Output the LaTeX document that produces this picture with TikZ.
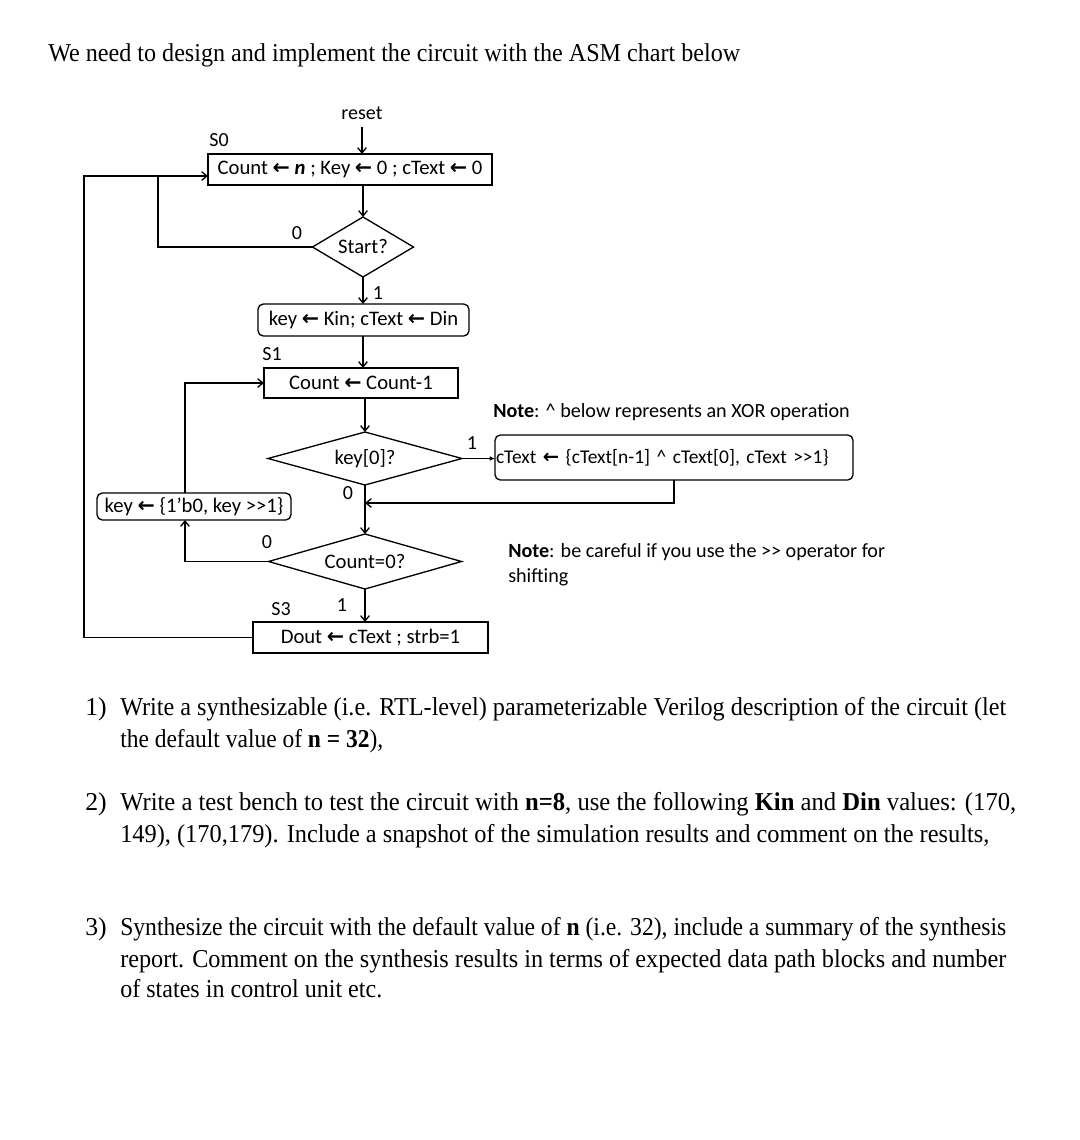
\documentclass[tikz,border=0pt]{standalone}
\usepackage{fontspec}
\usepackage{graphicx}
\setmainfont{Liberation Serif}
\newfontfamily\calfont{Carlito}
\newfontfamily\arrowfont{DejaVu Sans Bold}
\usetikzlibrary{shapes.geometric,arrows.meta}
\newcommand{\lar}{{\arrowfont ←}}
\newcommand{\dfont}{\calfont\fontsize{15.5pt}{18pt}\selectfont}
\newcommand{\cfont}{\calfont\fontsize{14.6pt}{17pt}\selectfont}
\newcommand{\nfont}{\calfont\fontsize{15.1pt}{18pt}\selectfont}
\newcommand{\lfont}{\calfont\fontsize{15pt}{18pt}\selectfont}
\newcommand{\bfont}{\fontsize{19.3pt}{23pt}\selectfont}
\newcommand{\bline}[2]{\resizebox{#1}{\height}{#2}}
\begin{document}
\begin{tikzpicture}[x=0.75pt,y=-0.75pt,
  box/.style={draw, line width=1pt, inner sep=0pt, outer sep=0pt, font=\dfont},
  rbox/.style={box, rounded corners=4pt},
  dec/.style={draw, diamond, inner sep=0pt, outer sep=0pt, line width=1pt, font=\dfont},
  lbl/.style={font=\lfont, inner sep=0pt},
  note/.style={anchor=base west, inner sep=0pt, font=\nfont},
  txt/.style={anchor=base west, inner sep=0pt, font=\bfont},
  arr/.style={line width=1pt, -{Straight Barb[length=4pt,width=6.5pt]}},
  farr/.style={line width=1pt, -{Latex[length=4pt,width=3.5pt]}},
  wire/.style={line width=1pt}]
\fill[white] (0,0) rectangle (1080,1140);
\useasboundingbox (0,0) rectangle (1080,1140);

% header
\node[txt] (head) at (48,61) {\bline{519pt}{We need to design and implement the circuit with the ASM chart below}};

% ASM chart
\node[lbl, anchor=base] (reset) at (362,119) {reset};
\node[lbl] (s0lbl) at (219,140) {S0};
\node[box, minimum width=213pt, minimum height=23.25pt] (s0) at (350,169.5)
  {Count \lar\ \textbf{\textit{n}} ; Key \lar\ 0 ; cText \lar\ 0};
\node[dec, minimum width=75.75pt, minimum height=45pt, aspect=1.7] (start) at (363,247) {Start?};
\node[rbox, minimum width=158.25pt, minimum height=24pt] (kbox) at (363.5,320)
  {key \lar\ Kin; cText \lar\ Din};
\node[lbl] (s1lbl) at (272,354) {S1};
\node[box, minimum width=145.5pt, minimum height=22.5pt] (s1) at (361,383) {Count \lar\ Count-1};
\node[dec, minimum width=145.5pt, minimum height=39.75pt, aspect=3.6] (key0) at (365,458.5) {key[0]?};
\node[rbox, minimum width=268.5pt, minimum height=33.75pt, text width=267pt, align=left, inner xsep=0.75pt, font=\cfont] (ctext) at (674,457.5)
  {cText \lar\ \{cText[n-1] \textasciicircum\ cText[0], cText >{}>1\}};
\node[rbox, minimum width=145.5pt, minimum height=20.25pt] (kshift) at (194,506.5)
  {key \lar\ \{1’b0, key >{}>1\}};
\node[dec, minimum width=144.75pt, minimum height=41.25pt, aspect=3.5] (cnt0) at (365,561.5) {Count=0?};
\node[lbl] (s3lbl) at (281,609) {S3};
\node[box, minimum width=176.25pt, minimum height=23.25pt] (s3) at (370.5,637.5) {Dout \lar\ cText ; strb=1};

% branch labels
\node[lbl] (l0a) at (297,233) {0};
\node[lbl] (l1a) at (378,293) {1};
\node[lbl] (l1b) at (472,443) {1};
\node[lbl] (l0b) at (348,493) {0};
\node[lbl] (l0c) at (267,542) {0};
\node[lbl] (l1c) at (342,605) {1};

% notes
\node[note] (note1) at (493,417) {\textbf{Note}: \textasciicircum\ below represents an XOR operation};
\node[note] (note2) at (508,557) {\textbf{Note}: be careful if you use the >{}> operator for};
\node[note] (note3) at (508,582) {shifting};

% coordinates
\coordinate (L0) at (84,176);
\coordinate (L1) at (158,176);
\coordinate (J) at (365,503);
\coordinate (kx) at (185,0);

% connectors
\draw[arr, shorten <=6pt] (reset.south) -- (reset.south |- s0.north);
\draw[arr] (s0.south -| start) -- (start.north);
\draw[arr] (start.west) -| (L1) -- (L1 -| s0.west);
\draw[wire] (s3.west) -| (L0) -- (L1);
\draw[arr] (start.south) -- (start.south |- kbox.north);
\draw[arr] (kbox.south -| start) -- (s1.north -| start);
\draw[arr] (s1.south -| key0) -- (key0.north);
\draw[farr] (key0.east) -- (key0.east -| ctext.west);
\draw[arr] (ctext.south) |- (J);
\draw[arr] (key0.south) -- (cnt0.north);
\draw[arr] (cnt0.west) -| (kx |- kshift.south);
\draw[arr] (kx |- kshift.north) |- (s1.west);
\draw[arr] (cnt0.south) -- (cnt0.south |- s3.north);

% questions
\node[txt] (n1) at (85,715) {1)};
\node[txt] (t1a) at (120,715) {\bline{664.5pt}{Write a synthesizable (i.e. RTL-level) parameterizable Verilog description of the circuit (let}};
\node[txt] (t1b) at (120,747) {\bline{197.25pt}{the default value of \textbf{n = 32}),}};
\node[txt] (n2) at (85,810) {2)};
\node[txt] (t2a) at (120,810) {\bline{672pt}{Write a test bench to test the circuit with \textbf{n=8}, use the following \textbf{Kin} and \textbf{Din} values: (170,}};
\node[txt] (t2b) at (120,842) {\bline{651.75pt}{149), (170,179). Include a snapshot of the simulation results and comment on the results,}};
\node[txt] (n3) at (85,935) {3)};
\node[txt] (t3a) at (120,935) {\bline{664.5pt}{Synthesize the circuit with the default value of \textbf{n} (i.e. 32), include a summary of the synthesis}};
\node[txt] (t3b) at (120,967) {\bline{664.5pt}{report. Comment on the synthesis results in terms of expected data path blocks and number}};
\node[txt] (t3c) at (120,997) {\bline{196.5pt}{of states in control unit etc.}};
\end{tikzpicture}
\end{document}
